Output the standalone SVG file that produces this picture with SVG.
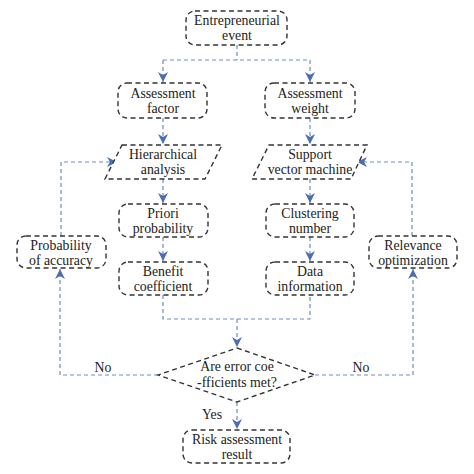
<svg xmlns="http://www.w3.org/2000/svg" width="474" height="474" viewBox="0 0 474 474" font-family="'Liberation Serif', 'DejaVu Serif', serif">
<defs>
<marker id="ah" viewBox="0 0 12 12" refX="11" refY="6" markerWidth="12" markerHeight="12" markerUnits="userSpaceOnUse" orient="auto">
<path d="M1,1 L11,6 L1,11 L4,6 Z" fill="#4a6db3"/>
</marker>
</defs>
<style>
.n{fill:#fff;stroke:#333;stroke-width:1.4;stroke-dasharray:5 3.5}
.c{fill:none;stroke:#6f8cc4;stroke-width:1.2;stroke-dasharray:4 3}
.a{marker-end:url(#ah)}
text{font-family:"Liberation Serif","DejaVu Serif",serif;font-size:13.8px;fill:#222;text-anchor:middle}
</style>
<rect width="474" height="474" fill="#fff"/>
<g id="connectors">
<path class="c" d="M237,45 V60 M163,60 H310"/>
<path class="c a" d="M163,60 V82"/>
<path class="c a" d="M310,60 V82"/>
<path class="c a" d="M163,118 V144"/>
<path class="c a" d="M310,118 V144"/>
<path class="c a" d="M163,179 V203"/>
<path class="c a" d="M310,179 V203"/>
<path class="c a" d="M163,237 V261"/>
<path class="c a" d="M310,237 V261"/>
<path class="c" d="M163,295 V319 H310 V295"/>
<path class="c a" d="M237,319 V347"/>
<path class="c a" d="M237,402 V429"/>
<path class="c a" d="M158,375 H60 V269"/>
<path class="c a" d="M61,236 V162 H117"/>
<path class="c a" d="M315,375 H413 V269"/>
<path class="c a" d="M412,236 V162 H357"/>
</g>
<g id="entrepreneurial-event"><rect class="n" x="186" y="11" width="101" height="34" rx="9"/><text x="237" y="25">Entrepreneurial</text><text x="237" y="40">event</text></g>
<g id="assessment-factor"><rect class="n" x="118" y="83" width="89" height="35" rx="9"/><text x="163" y="98">Assessment</text><text x="163" y="113">factor</text></g>
<g id="assessment-weight"><rect class="n" x="265" y="83" width="90" height="35" rx="9"/><text x="310" y="98">Assessment</text><text x="310" y="113">weight</text></g>
<g id="hierarchical-analysis"><polygon class="n" points="122,145 222,145 205,179 105,179"/><text x="163" y="159">Hierarchical</text><text x="163" y="174">analysis</text></g>
<g id="support-vector-machine"><polygon class="n" points="269,145 367,145 351,179 252,179"/><text x="310" y="159">Support</text><text x="310" y="174">vector machine</text></g>
<g id="priori-probability"><rect class="n" x="119" y="204" width="89" height="33" rx="9"/><text x="163" y="218">Priori</text><text x="163" y="233">probability</text></g>
<g id="clustering-number"><rect class="n" x="266" y="204" width="88" height="33" rx="9"/><text x="310" y="218">Clustering</text><text x="310" y="233">number</text></g>
<g id="benefit-coefficient"><rect class="n" x="119" y="262" width="89" height="33" rx="9"/><text x="163" y="276">Benefit</text><text x="163" y="291">coefficient</text></g>
<g id="data-information"><rect class="n" x="266" y="262" width="88" height="33" rx="9"/><text x="310" y="276">Data</text><text x="310" y="291">information</text></g>
<g id="probability-of-accuracy"><rect class="n" x="17" y="236" width="89" height="32" rx="9"/><text x="61" y="250">Probability</text><text x="61" y="265">of accuracy</text></g>
<g id="relevance-optimization"><rect class="n" x="369" y="236" width="88" height="32" rx="9"/><text x="413" y="250">Relevance</text><text x="413" y="265">optimization</text></g>
<g id="decision"><polygon class="n" points="237,348 315,375 237,402 158,375"/><text x="237" y="371">Are error coe</text><text x="237" y="387">-fficients met?</text></g>
<g id="risk-assessment-result"><rect class="n" x="183" y="430" width="107" height="33" rx="9"/><text x="237" y="444">Risk assessment</text><text x="237" y="459">result</text></g>
<g id="labels"><text x="103" y="372">No</text><text x="361" y="372">No</text><text x="212" y="419">Yes</text></g>
</svg>
